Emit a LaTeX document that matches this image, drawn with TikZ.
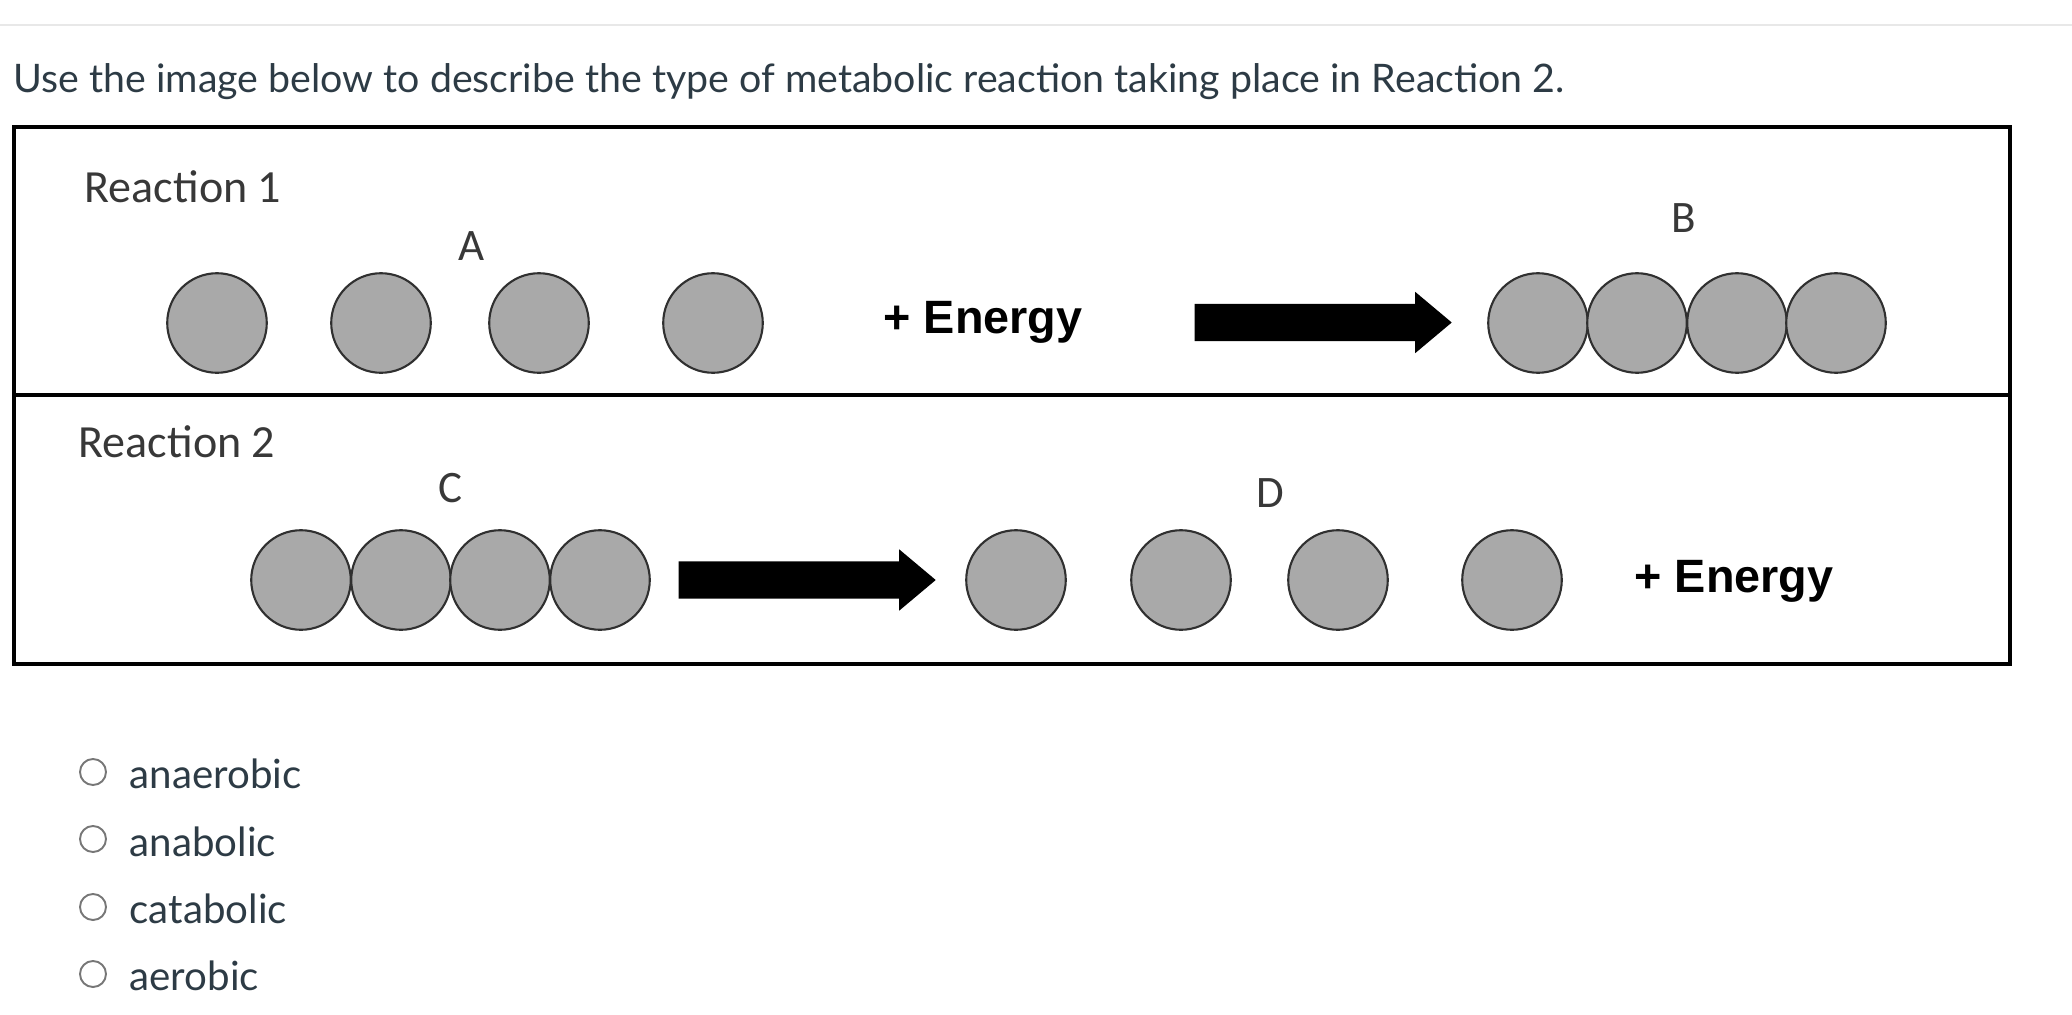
\documentclass[tikz,border=0pt]{standalone}
\usepackage{fontspec}
\usetikzlibrary{shapes.arrows}
\newfontfamily\latofont{Lato}
\newfontfamily\carlfont{Carlito}
\newfontfamily\arialfont{Liberation Sans}
\definecolor{canvastext}{HTML}{2D3B45}
\definecolor{labgray}{HTML}{383838}
\definecolor{ballfill}{HTML}{A9A9A9}
\definecolor{ballline}{HTML}{303030}
\definecolor{rulegray}{HTML}{E8E8E8}
\definecolor{radiogray}{HTML}{777777}
\tikzset{
  ball/.style={circle, fill=ballfill, draw=ballline, line width=0.6pt, minimum size=0.995cm, inner sep=0pt},
  blockarrow/.style={single arrow, fill=black, draw=none, inner xsep=0pt, inner ysep=0.18cm,
    minimum height=2.57cm, single arrow head extend=0.12cm, single arrow tip angle=80, single arrow head indent=0pt},
  titletext/.style={anchor=base west, inner sep=0pt, text=canvastext, font=\latofont\fontsize{11.18}{13}\selectfont},
  opttext/.style={anchor=base west, inner sep=0pt, text=canvastext, font=\latofont\fontsize{11.45}{14}\selectfont},
  radio/.style={circle, draw=radiogray, line width=0.55pt, minimum size=0.26cm, inner sep=0pt},
  reactlabel/.style={anchor=base west, inner sep=0pt, text=labgray, font=\carlfont\fontsize{13.1}{15}\selectfont},
  letter/.style={anchor=base, inner sep=0pt, text=labgray, font=\carlfont\fontsize{12.8}{15}\selectfont},
  energy/.style={anchor=base west, inner sep=0pt, text=black, font=\arialfont\bfseries\fontsize{13.3}{15}\selectfont},
  panel/.style={draw=black, line width=1.2pt}
}
\begin{document}
\begin{tikzpicture}[x=0.01cm, y=-0.01cm]
\useasboundingbox (0,0) rectangle (2072,1015);
% top rule
\draw[rulegray, line width=0.5pt] (0,25) -- (2072,25);
% title
\node[titletext] (title) at (13,92) {Use the image below to describe the type of metabolic reaction taking place in Reaction 2.};
% panels
\draw[panel] (14,127) rectangle (2010,395);
\draw[panel] (14,395) rectangle (2010,664);
% Reaction 1
\node[reactlabel] (r1) at (84,202) {Reaction 1};
\node[letter] (la) at (472,260) {A};
\node[ball] (a1) at (217,323) {};
\node[ball] (a2) at (381,323) {};
\node[ball] (a3) at (539,323) {};
\node[ball] (a4) at (713,323) {};
\node[energy] (e1) at (883,333) {+ Energy};
\node[blockarrow] (ar1) at (1312,322.5) {};
\node[letter] (lb) at (1684,232) {B};
\node[ball] (b1) at (1538,323) {};
\node[ball] (b2) at (1637,323) {};
\node[ball] (b3) at (1737,323) {};
\node[ball] (b4) at (1836,323) {};
% Reaction 2
\node[reactlabel] (r2) at (78,457) {Reaction 2};
\node[letter] (lc) at (450,502) {C};
\node[ball] (c1) at (301,580) {};
\node[ball] (c2) at (401,580) {};
\node[ball] (c3) at (500,580) {};
\node[ball] (c4) at (600,580) {};
\node[blockarrow] (ar2) at (796,580) {};
\node[letter] (ld) at (1270,507) {D};
\node[ball] (d1) at (1016,580) {};
\node[ball] (d2) at (1181,580) {};
\node[ball] (d3) at (1338,580) {};
\node[ball] (d4) at (1512,580) {};
\node[energy] (e2) at (1634,592) {+ Energy};
% options
\node[radio] (o1) at (93,772) {};
\node[radio] (o2) at (93,839) {};
\node[radio] (o3) at (93,907) {};
\node[radio] (o4) at (93,974) {};
\node[opttext] (t1) at (129,788) {anaerobic};
\node[opttext] (t2) at (129,856) {anabolic};
\node[opttext] (t3) at (129,923) {catabolic};
\node[opttext] (t4) at (129,990) {aerobic};
\end{tikzpicture}
\end{document}
